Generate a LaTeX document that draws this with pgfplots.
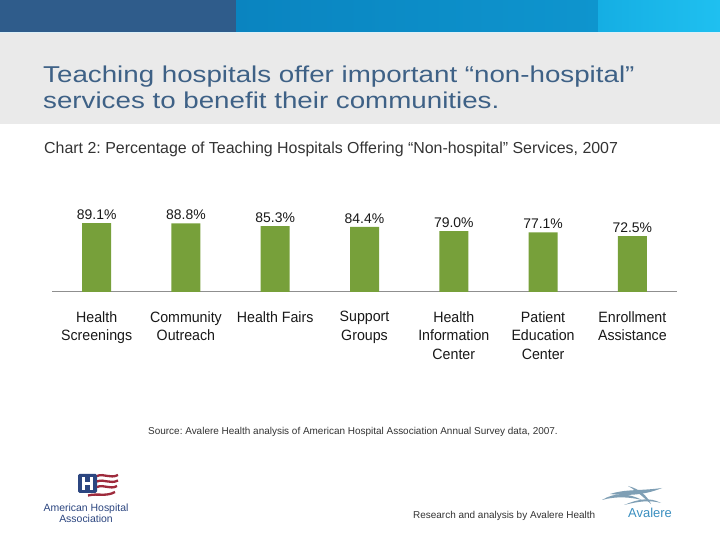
\documentclass[border=0pt]{standalone}
\usepackage{fontspec}
\setmainfont{Liberation Sans}
\newfontfamily\widefont[FakeStretch=1.21]{Liberation Sans}
\newfontfamily\narrowfont[FakeStretch=0.95]{Liberation Sans}
\usepackage{pgfplots}
\pgfplotsset{compat=1.18}
\frenchspacing

\definecolor{barGreen}{HTML}{77A03A}
\definecolor{titleBlue}{HTML}{3E6186}
\definecolor{topDark}{HTML}{2F5C8B}
\definecolor{topMid}{HTML}{0A84C0}
\definecolor{topMid2}{HTML}{0E95CE}
\definecolor{topLight}{HTML}{15AEE3}
\definecolor{topLight2}{HTML}{1FC0F0}
\definecolor{rule}{HTML}{DDF0F8}
\definecolor{bandGrey}{HTML}{EAEAEA}
\definecolor{axisGrey}{HTML}{8F8F8F}
\definecolor{ahaBlue}{HTML}{2C4680}
\definecolor{ahaRed}{HTML}{9E2A3C}
\definecolor{avBlue}{HTML}{3A8FC0}
\definecolor{avGrey}{HTML}{7F9FB5}

\begin{document}
\begin{tikzpicture}[x=1bp,y=1bp]
  % page frame
  \useasboundingbox (0,0) rectangle (720,540);
  \fill[white] (0,0) rectangle (720,540);

  % header bar
  \fill[topDark] (0,508) rectangle (236,540);
  \shade[left color=topMid, right color=topMid2] (236,508) rectangle (598,540);
  \shade[left color=topLight, right color=topLight2] (598,508) rectangle (720,540);
  \fill[rule] (0,506.5) rectangle (720,508);
  \fill[bandGrey] (0,416) rectangle (720,506.5);

  % title
  \node[anchor=base west, inner sep=0, font=\widefont\fontsize{23}{26}\selectfont, text=titleBlue]
    at (43,457.5) {Teaching hospitals offer important “non-hospital”};
  \node[anchor=base west, inner sep=0, font=\widefont\fontsize{23}{26}\selectfont, text=titleBlue]
    at (43,431.5) {services to benefit their communities.};

  % chart caption
  \node[anchor=base west, inner sep=0, font=\fontsize{16}{19}\selectfont, text=black!80]
    at (44,386.5) {Chart 2: Percentage of Teaching Hospitals Offering “Non-hospital” Services, 2007};

  \begin{axis}[
    at={(52bp,248bp)}, anchor=south west,
    scale only axis, width=625bp, height=77.2bp,
    xmin=-0.5, xmax=6.5, ymin=0, ymax=100,
    ybar, bar width=29bp,
    axis x line*=bottom,
    hide y axis,
    axis line style={axisGrey, line width=1bp, -},
    major tick length=0pt,
    /pgf/number format/assume math mode=true,
    xtick=data,
    xticklabels={{Health\\Screenings},{Community\\Outreach},{Health Fairs},{Support\\Groups},{Health\\Information\\Center},{Patient\\Education\\Center},{Enrollment\\Assistance}},
    xticklabel style={align=center, font=\narrowfont\fontsize{15}{18.5}\selectfont, text=black!90, anchor=north, yshift=-16bp},
    nodes near coords={\pgfmathprintnumber[fixed,fixed zerofill,precision=1]{\pgfplotspointmeta}\%},
    nodes near coords style={font=\fontsize{14}{16}\selectfont, text=black!90},
    clip=false,
  ]
    \addplot[fill=barGreen, draw=none] coordinates {
      (0,89.1) (1,88.8) (2,85.3) (3,84.4) (4,79.0) (5,77.1) (6,72.5)
    };
  \end{axis}

  % source line
  \node[anchor=base west, inner sep=0, font=\fontsize{10}{12}\selectfont, text=black!80]
    at (148,105) {Source: Avalere Health analysis of American Hospital Association Annual Survey data, 2007.};

  % AHA logo
  \fill[ahaBlue, rounded corners=1.5bp] (78,47) rectangle (97,66);
  \fill[white] (81.5,50) rectangle (84.5,63);
  \fill[white] (90,50) rectangle (93,63);
  \fill[white] (84.5,55) rectangle (90,58);
  \draw[ahaRed, line width=2.3bp] (97,64) .. controls (104,67) and (110,61) .. (118,65);
  \draw[ahaRed, line width=2.3bp] (97,58.5) .. controls (104,61.5) and (110,55.5) .. (118,59.5);
  \draw[ahaRed, line width=2.3bp] (97,53) .. controls (104,56) and (110,50) .. (117,54);
  \draw[ahaRed, line width=2.3bp] (88,44.5) .. controls (98,47) and (106,43) .. (115,48);
  \node[anchor=base, inner sep=0, font=\fontsize{10.5}{12}\selectfont, text=ahaBlue] at (86,28) {American Hospital};
  \node[anchor=base, inner sep=0, font=\fontsize{10.5}{12}\selectfont, text=ahaBlue] at (86,17) {Association};

  % credit line
  \node[anchor=base west, inner sep=0, font=\fontsize{10}{12}\selectfont, text=black!80]
    at (413,21) {Research and analysis by Avalere Health};

  % Avalere logo
  \fill[avGrey] (602,40) .. controls (615,48) and (628,47) .. (642,40)
                       .. controls (630,43) and (616,44) .. (602,40) -- cycle;
  \fill[avGrey] (610,46) .. controls (625,51) and (640,49) .. (662,52)
                       .. controls (645,45) and (628,44) .. (610,46) -- cycle;
  \fill[avGrey] (624,35) .. controls (638,41) and (650,43) .. (661,37)
                       .. controls (650,40) and (640,39) .. (624,35) -- cycle;
  \fill[avGrey] (628,54) .. controls (640,51) and (647,44) .. (651,36)
                       .. controls (643,43) and (637,49) .. (628,54) -- cycle;
  \node[anchor=base west, inner sep=0, font=\fontsize{13}{15}\selectfont, text=avBlue]
    at (628,22) {Avalere};
\end{tikzpicture}
\end{document}
